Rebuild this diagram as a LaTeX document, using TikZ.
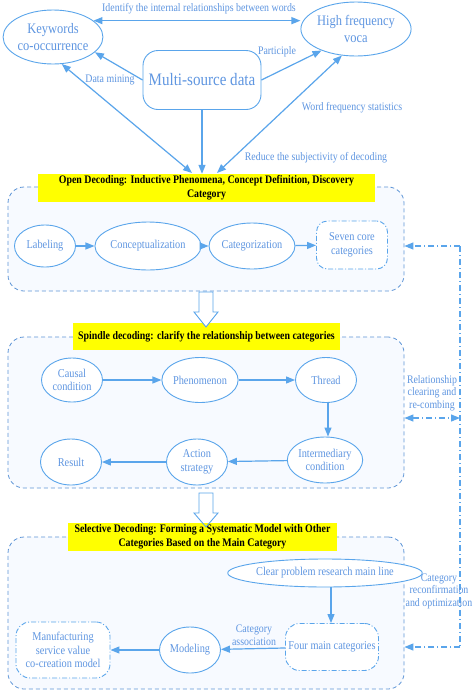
\documentclass[tikz,border=0pt]{standalone}
\usepackage{fontspec}
\setmainfont{Liberation Serif}[FakeStretch=0.86]
\usetikzlibrary{shapes.geometric,arrows.meta}
\definecolor{lb}{RGB}{90,165,235}
\definecolor{tb}{RGB}{95,150,225}
\definecolor{bb}{RGB}{95,150,215}
\definecolor{yel}{RGB}{255,255,0}
\definecolor{pale}{RGB}{247,250,255}
\begin{document}
\begin{tikzpicture}[x=1pt,y=-1pt,
  txt/.style={text=tb,font=\fontsize{11.5}{12.5}\selectfont,align=center,inner sep=1pt},
  ell/.style={ellipse,draw=lb,line width=0.9pt,text=tb,inner sep=0pt,align=center,font=\fontsize{12}{13.5}\selectfont,fill=white},
  ddbox/.style={rectangle,draw=lb,line width=0.9pt,dash pattern=on 5pt off 2pt on 1pt off 2pt,rounded corners=11pt,text=tb,inner sep=0pt,align=center,font=\fontsize{12}{13.5}\selectfont,fill=white},
  panel/.style={rectangle,draw=bb,line width=0.8pt,dash pattern=on 4pt off 3pt,rounded corners=16pt,fill=pale,inner sep=0pt},
  ybox/.style={rectangle,fill=yel,inner sep=0pt,align=center,font=\bfseries\fontsize{11.5}{14}\selectfont,text=black},
  arr/.style={-{Triangle[length=9pt,width=7pt]},draw=lb,line width=1.2pt},
  darr/.style={{Triangle[length=9pt,width=7pt]}-{Triangle[length=9pt,width=7pt]},draw=lb,line width=1.2pt},
  fbl/.style={draw=lb,line width=1.2pt,dash pattern=on 6pt off 3pt on 1pt off 3pt},
  hollow/.style={draw=lb,line width=0.9pt,fill=white}
]
\useasboundingbox (0,0) rectangle (474,697);
\fill[white] (0,0) rectangle (474,697);

% ---------- top part ----------
\node[ell,minimum width=86pt,minimum height=54pt,font=\fontsize{14.5}{17}\selectfont] (kw) at (53,37) {Keywords\\co-occurrence};
\node[ell,minimum width=86pt,minimum height=54pt,font=\fontsize{14.5}{17}\selectfont] (hf) at (356,29) {High frequency\\voca};
\node[rectangle,rounded corners=15pt,draw=lb,line width=0.9pt,minimum width=118pt,minimum height=59pt,text=tb,font=\fontsize{17.5}{20}\selectfont,inner sep=0pt] (ms) at (202,80) {Multi-source data};

\node[txt] (l1) at (199,9) {Identify the internal relationships between words};
\node[txt] (l2) at (110,80) {Data mining};
\node[txt] (l3) at (277,52) {Participle};
\node[txt] (l4) at (352,108) {Word frequency statistics};
\node[txt] (l5) at (316,158) {Reduce the subjectivity of decoding};

% ---------- panel 1 ----------
\node[panel,minimum width=396pt,minimum height=104pt] (box1) at (206,239) {};
\node[ybox,minimum width=337pt,minimum height=28pt] (y1) at (206.5,188) {Open Decoding: Inductive Phenomena, Concept Definition, Discovery\\Category};

\coordinate (o1) at (192,173);
\coordinate (o2) at (217,173);
\draw[darr] (kw.-72) -- (o1);
\draw[darr] (hf.-118) -- (o2);
\draw[arr] (ms.south) -- (ms.south |- y1.north);
\draw[arr] (ms.west) -- (kw.-20);
\draw[arr] (ms.east) -- (hf.212);
\draw[darr] (kw.22) -- (kw.22 -| hf.west);

\node[ell,minimum width=61pt,minimum height=42pt] (lab) at (45,246) {Labeling};
\node[ell,minimum width=82pt,minimum height=48pt] (con) at (148,246) {Conceptualization};
\node[ell,minimum width=66pt,minimum height=46pt] (cat) at (252,246) {Categorization};
\node[ddbox,minimum width=71pt,minimum height=48pt] (sev) at (352,245) {Seven core\\categories};
\draw[arr] (lab) -- (con);
\draw[arr] (con) -- (cat);
\draw[arr] (cat) -- (sev);

% ---------- panel 2 ----------
\node[panel,minimum width=396pt,minimum height=151pt] (box2) at (206,412.5) {};
\node[ybox,minimum width=267pt,minimum height=27pt] (y2) at (206.5,336.5) {Spindle decoding: clarify the relationship between categories};

\node[ell,minimum width=61pt,minimum height=44pt] (cc) at (72,380) {Causal\\condition};
\node[ell,minimum width=61pt,minimum height=45pt] (ph) at (200,380) {Phenomenon};
\node[ell,minimum width=61pt,minimum height=45pt] (th) at (326,380) {Thread};
\node[ell,minimum width=61pt,minimum height=46pt] (im) at (325,460) {Intermediary\\condition};
\node[ell,minimum width=61pt,minimum height=46pt] (as) at (197,462) {Action\\strategy};
\node[ell,minimum width=61pt,minimum height=46pt] (rs) at (71,462) {Result};
\draw[arr] (cc) -- (ph);
\draw[arr] (ph) -- (th);
\draw[arr] ([xshift=2pt]th.south) -- ([xshift=2pt]th.south |- im.north);
\draw[arr] (im) -- (as);
\draw[arr] (as) -- (rs);

% hollow arrow 1
\draw[hollow] (199,292) -- (213,292) -- (213,312) -- (218,312) -- (206,327) -- (194,312) -- (199,312) -- cycle;

% ---------- panel 3 ----------
\node[panel,minimum width=396pt,minimum height=152pt] (box3) at (206,613) {};
\fill[white] (199,493) -- (213,493) -- (213,513) -- (218,513) -- (206,527) -- (194,513) -- (199,513) -- cycle;
\node[ybox,minimum width=269pt,minimum height=28pt] (y3) at (202.5,537) {Selective Decoding: Forming a Systematic Model with Other\\Categories Based on the Main Category};
\draw[draw=lb,line width=0.9pt] (199,493) -- (213,493) -- (213,513) -- (218,513) -- (206,527) -- (194,513) -- (199,513) -- cycle;

\node[ell,minimum width=148pt,minimum height=28pt] (cl) at (325,573) {Clear problem research main line};
\node[ddbox,minimum width=93pt,minimum height=47pt,rounded corners=14pt] (fm) at (332,647) {Four main categories};
\node[ell,minimum width=61pt,minimum height=46pt] (mo) at (190,650) {Modeling};
\node[ddbox,minimum width=94pt,minimum height=56pt,rounded corners=14pt] (mf) at (63,650) {Manufacturing\\service value\\co-creation model};
\draw[arr] ([xshift=6pt]cl.south) -- ([xshift=6pt]cl.south |- fm.north);
\draw[arr] (fm) -- (mo);
\draw[arr] (mo) -- (mf);
\node[txt] (l6) at (254,635) {Category\\association};

% ---------- feedback on the right ----------
\coordinate (fb1) at (460,246);
\coordinate (fb2) at (460,418);
\coordinate (fb3) at (460,647);
\draw[fbl] (fb1) -- (fb3);
\draw[fbl,-{Triangle[length=9pt,width=7pt]}] (fb1) -- (fb1 -| box1.east);
\draw[fbl,{Triangle[length=9pt,width=7pt]}-{Triangle[length=9pt,width=7pt]}] (fb2 -| box2.east) -- (fb2);
\draw[fbl,-{Triangle[length=9pt,width=7pt]}] (fb3) -- (fb3 -| box3.east);
\node[txt,fill=white,inner sep=0.5pt] (l7) at (432,393) {Relationship\\clearing and\\re-combing};
\node[txt] (l8) at (439,591) {Category\\reconfirmation\\and optimization};
\end{tikzpicture}
\end{document}
